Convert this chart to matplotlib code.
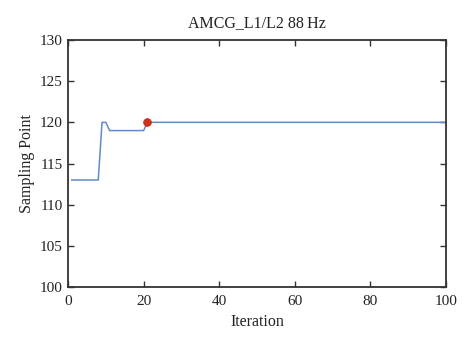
import matplotlib
matplotlib.use("Agg")
import matplotlib.pyplot as plt

# Sampling point chosen at each iteration
iterations = list(range(1, 101))
sampling_point = [113] * 7 + [113, 120, 120, 119] + [119] * 9 + [120] * 80
best_iteration = 21
best_value = 120

plt.rcParams['font.family'] = ['Liberation Serif', 'DejaVu Serif']

fig = plt.figure(figsize=(4.74, 3.42), dpi=100)
ax = fig.add_axes([0.1435, 0.1608, 0.7975, 0.7222])

ax.plot(iterations, sampling_point, color='#5f8bc6', linewidth=1.1)
ax.plot([best_iteration], [best_value], 'o', color='#d0301c', markersize=5.5,
        markeredgecolor='#c02818', markeredgewidth=0.6)

ax.set_xlim(0, 100)
ax.set_ylim(100, 130)
ax.set_xticks([0, 20, 40, 60, 80, 100])
ax.set_yticks([100, 105, 110, 115, 120, 125, 130])
ax.tick_params(direction='in', top=True, right=True, length=4, width=1,
               color='#333333', labelsize=11, labelcolor='#222222')
ax.tick_params(axis='x', pad=6)
ax.tick_params(axis='y', pad=4)
for s in ax.spines.values():
    s.set_color('#333333')
    s.set_linewidth(1.3)

ax.set_title('AMCG_L1/L2 88\u2009Hz', fontsize=11.5, color='#222222', pad=9)
ax.set_xlabel('Iteration', fontsize=11.5, color='#222222', labelpad=4)
ax.set_ylabel('Sampling Point', fontsize=11.5, color='#222222', labelpad=3)

fig.savefig('out.png', dpi=100)
